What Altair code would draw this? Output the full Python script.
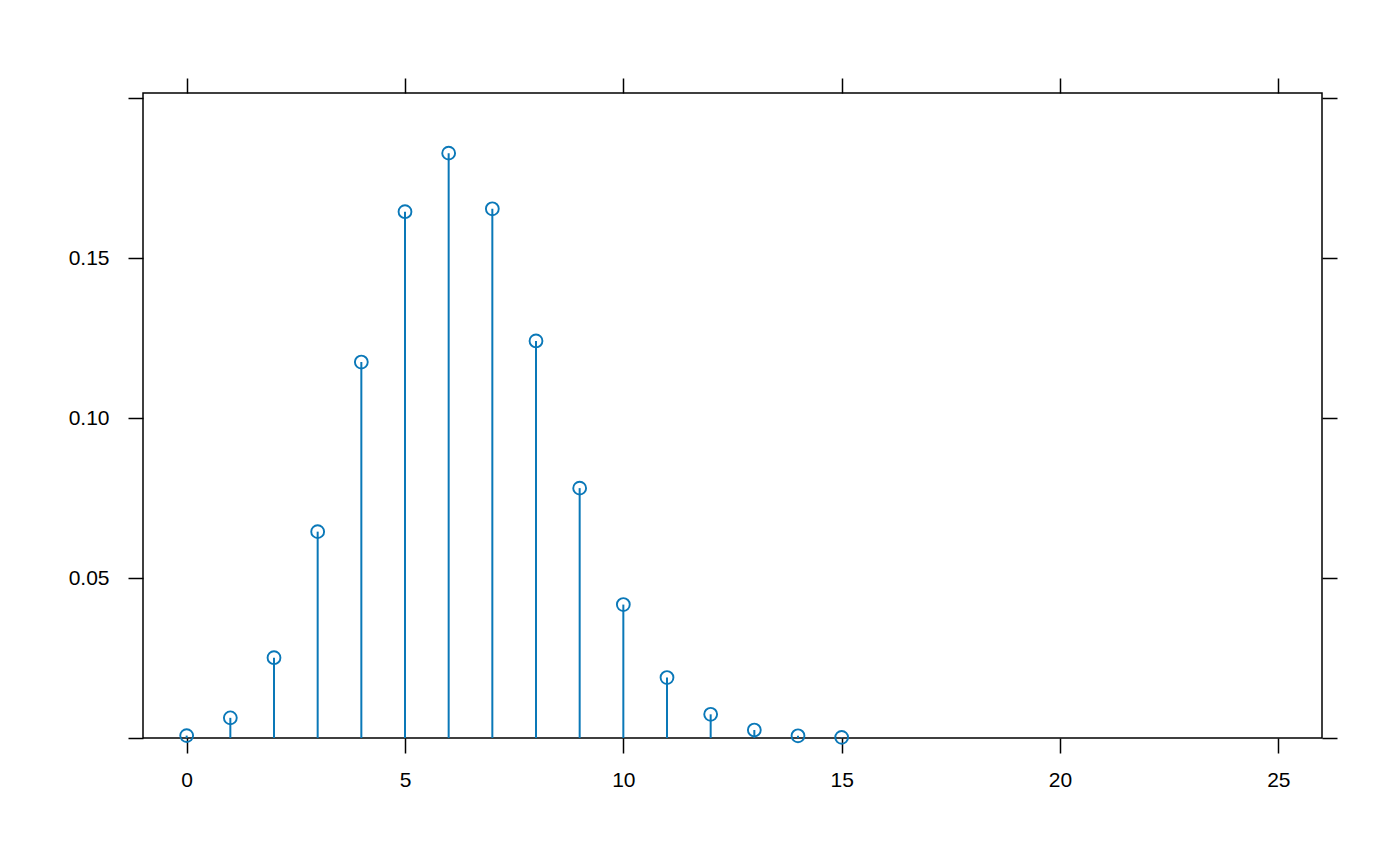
import altair as alt
import pandas as pd

counts = list(range(0, 16))
probs = [0.00075, 0.0063, 0.0251, 0.0645, 0.1175, 0.1645, 0.1828, 0.1654,
         0.1241, 0.0781, 0.0417, 0.0189, 0.0074, 0.0025, 0.0007, 0.0002]
x_ticks = [0, 5, 10, 15, 20, 25]
y_ticks = [0, 0.05, 0.10, 0.15, 0.20]

df = pd.DataFrame({"k": counts, "p": probs})

BLUE = "#0A78B8"
FONT = "Liberation Sans"

xscale = alt.Scale(domain=[-1, 26], nice=False, zero=False)
yscale = alt.Scale(domain=[0, 0.2016], nice=False, zero=False)

axis_common = dict(domain=False, grid=False, tickSize=15, tickWidth=1.5,
                   tickColor="black", labelColor="black", labelFont=FONT,
                   labelFontSize=21, title=None)

stems = alt.Chart(df).mark_rule(color=BLUE, strokeWidth=2).encode(
    x=alt.X("k:Q", scale=xscale,
            axis=alt.Axis(orient="bottom", values=x_ticks, labelPadding=16, **axis_common)),
    y=alt.Y("p:Q", scale=yscale,
            axis=alt.Axis(orient="left", values=y_ticks, labelPadding=19,
                          labelExpr="datum.value > 0.01 && datum.value < 0.19 ? format(datum.value, '.2f') : ''",
                          **axis_common)),
    y2=alt.datum(0),
)

points = alt.Chart(df).mark_point(shape="circle", filled=False, color=BLUE,
                                  size=165, strokeWidth=1.9, opacity=1).encode(
    x=alt.X("k:Q", scale=xscale,
            axis=alt.Axis(orient="top", values=x_ticks, labels=False, **axis_common)),
    y=alt.Y("p:Q", scale=yscale,
            axis=alt.Axis(orient="right", values=y_ticks, labels=False, **axis_common)),
)

chart = alt.layer(stems, points).resolve_axis(
    x="independent", y="independent"
).properties(
    width=1179, height=645,
    background="white",
    padding={"left": 135, "top": 85, "right": 60, "bottom": 120},
    autosize=alt.AutoSizeParams(type="none"),
).configure_view(stroke="black", strokeWidth=1.5)

chart.save("out.html", embed_options={"renderer": "svg", "actions": False})
